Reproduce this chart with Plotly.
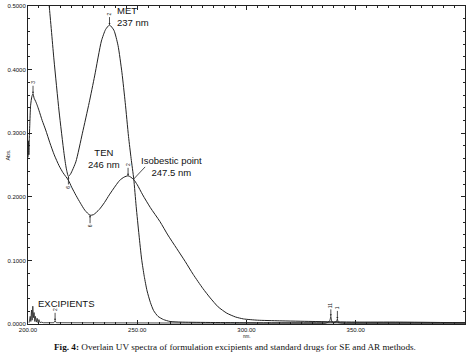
import numpy as np
import plotly.graph_objects as go

# ---------------- data ----------------
ten_wl = [200.0, 200.2, 200.4, 200.6, 200.8, 201.2, 201.8, 202.3, 202.8, 203.5, 204.2, 205.0,
          206.5, 208.1, 210.0, 212.0, 214.2, 216.0, 218.5, 220.0, 222.0, 224.0, 226.0, 228.4,
          230.0, 232.6, 235.0, 237.2, 240.0, 242.0, 244.0, 245.8, 247.0, 248.4, 250.0, 252.5,
          256.0, 260.4, 264.0, 268.0, 272.0, 275.6, 280.0, 283.4, 287.0, 291.0, 295.0, 298.6,
          305.0, 315.0, 330.0, 350.0, 370.0, 400.0]
ten_abs = [0.262, 0.288, 0.266, 0.292, 0.312, 0.344, 0.358, 0.362, 0.355, 0.350, 0.344, 0.336,
           0.320, 0.305, 0.285, 0.266, 0.249, 0.238, 0.226, 0.215, 0.202, 0.190, 0.179, 0.171,
           0.172, 0.180, 0.191, 0.203, 0.217, 0.226, 0.231, 0.233, 0.231, 0.227, 0.219, 0.203,
           0.183, 0.161, 0.140, 0.119, 0.098, 0.078, 0.056, 0.041, 0.027, 0.017, 0.011, 0.008,
           0.006, 0.005, 0.004, 0.003, 0.003, 0.002]

met_wl = [206.5, 208.0, 209.7, 211.9, 214.2, 216.5, 217.5, 218.5, 219.5, 221.9, 224.9, 228.0,
          230.5, 233.6, 235.5, 237.3, 239.3, 241.2, 243.0, 244.5, 246.0, 247.2, 248.4, 249.5,
          250.8, 252.0, 253.2, 254.5, 256.0, 257.5, 259.5, 262.0, 265.0, 270.0, 300.0, 400.0]
met_abs = [0.600, 0.550, 0.500, 0.415, 0.335, 0.268, 0.245, 0.232, 0.236, 0.255, 0.300, 0.348,
           0.390, 0.445, 0.463, 0.470, 0.462, 0.438, 0.395, 0.348, 0.295, 0.260, 0.228, 0.185,
           0.140, 0.102, 0.075, 0.052, 0.034, 0.021, 0.012, 0.007, 0.004, 0.003, 0.002, 0.002]

exc_wl = [200.5, 201.0, 201.3, 201.6, 201.9, 202.2, 202.5, 202.8, 203.1, 203.4, 203.8, 204.2,
          204.6, 205.0, 205.5, 206.0, 207.0, 208.0, 210.0, 211.8, 212.4, 213.0, 215.0, 218.0,
          222.0, 226.0, 230.0, 240.0, 260.0, 280.0, 300.0, 320.0, 330.0, 336.0, 337.5, 338.2,
          338.6, 339.0, 340.0, 341.2, 341.6, 342.0, 344.0, 350.0, 370.0, 400.0]
exc_abs = [0.002, 0.012, 0.004, 0.022, 0.006, 0.028, 0.010, 0.018, 0.004, 0.012, 0.003, 0.009,
           0.002, 0.007, 0.002, 0.003, 0.002, 0.002, 0.002, 0.002, 0.005, 0.002, 0.002, 0.002,
           0.002, 0.002, 0.002, 0.002, 0.001, 0.001, 0.001, 0.001, 0.001, 0.001, 0.003, 0.006,
           0.012, 0.004, 0.002, 0.004, 0.008, 0.002, 0.001, 0.001, 0.001, 0.001]

# peak pick marks: (series, wavelength, label, side)
picks = [("TEN", 202.3, "3", "up"), ("MET", 237.3, "2", "up"), ("MET", 218.5, "6", "down"),
         ("TEN", 228.4, "6", "down"), ("TEN", 245.8, "2", "up"), ("EXC", 212.4, "2", "up"),
         ("EXC", 338.6, "11", "up"), ("EXC", 341.6, "1", "up")]

x_ticks = [200, 250, 300, 350, 400]
y_ticks = [0.0, 0.1, 0.2, 0.3, 0.4, 0.5]

# ---------------- figure ----------------
LC = "#222222"
fig = go.Figure()
fig.add_trace(go.Scatter(x=met_wl, y=met_abs, mode="lines",
                         line=dict(color=LC, width=1, shape="spline", smoothing=0.6)))
fig.add_trace(go.Scatter(x=ten_wl, y=ten_abs, mode="lines",
                         line=dict(color=LC, width=1, shape="spline", smoothing=0.6)))
fig.add_trace(go.Scatter(x=exc_wl, y=exc_abs, mode="lines",
                         line=dict(color=LC, width=0.8)))

series = {"TEN": (ten_wl, ten_abs), "MET": (met_wl, met_abs), "EXC": (exc_wl, exc_abs)}
for s, wl, lab, side in picks:
    yv = float(np.interp(wl, series[s][0], series[s][1]))
    fig.add_annotation(x=wl, y=yv, text=lab, showarrow=True, ax=0,
                       ay=-11 if side == "up" else 11, arrowhead=2, arrowsize=0.5,
                       arrowwidth=0.8, arrowcolor=LC, textangle=-90,
                       font=dict(size=5, color=LC, family="Liberation Sans"))

sans = "Liberation Sans"
fig.add_annotation(x=240.0, y=0.483, text="MET<br>237 nm", showarrow=False, xanchor="left",
                   align="left", font=dict(size=9.5, color="#111", family=sans))
fig.add_annotation(x=243.0, y=0.260, text="TEN<br>246 nm", showarrow=False, xanchor="right",
                   align="center", font=dict(size=9.5, color="#111", family=sans))
fig.add_annotation(x=265.5, y=0.248, text="Isobestic point<br>247.5 nm", showarrow=False,
                   xanchor="center", align="center", font=dict(size=9.5, color="#111", family=sans))
fig.add_annotation(x=203.7, y=0.033, text="EXCIPIENTS", showarrow=False, xanchor="left",
                   font=dict(size=9.5, color="#111", family=sans))
fig.add_shape(type="line", x0=248.4, y0=0.228, x1=253.6, y1=0.247,
              line=dict(color=LC, width=0.8))

fig.add_annotation(x=-0.057, y=0.53, xref="paper", yref="paper", text="Abs.",
                   showarrow=False, textangle=-90, font=dict(size=5.5, color="#111", family=sans))
fig.add_annotation(x=300, y=-0.054, xref="x", yref="paper", text="nm.", showarrow=False,
                   font=dict(size=4.5, color="#111", family=sans))
fig.add_annotation(x=0.474, y=-0.072, xref="paper", yref="paper", xanchor="center",
                   yanchor="middle",
                   text="<b>Fig. 4:</b> Overlain UV spectra of formulation excipients and standard drugs for SE and AR methods.",
                   showarrow=False, font=dict(size=9.2, color="#111", family="Liberation Serif"))

fig.update_layout(
    width=474, height=353, margin=dict(l=28, r=9, t=3, b=29),
    paper_bgcolor="white", plot_bgcolor="white", showlegend=False,
    xaxis=dict(range=[200, 400], tickvals=x_ticks, tickformat=".2f", ticks="inside",
               ticklen=4, tickcolor=LC, showline=True, linecolor=LC, linewidth=1,
               mirror="ticks", showgrid=False, zeroline=False,
               tickfont=dict(size=6, color="#111", family=sans),
               minor=dict(dtick=5, ticks="inside", ticklen=2, tickcolor=LC, showgrid=False)),
    yaxis=dict(range=[0, 0.5], tickvals=y_ticks, tickformat=".4f", ticks="inside",
               ticklen=4, tickcolor=LC, showline=True, linecolor=LC, linewidth=1,
               mirror="ticks", showgrid=False, zeroline=False,
               tickfont=dict(size=6, color="#111", family=sans),
               minor=dict(dtick=0.02, ticks="inside", ticklen=2, tickcolor=LC, showgrid=False)),
)

fig.write_html("out.html")
